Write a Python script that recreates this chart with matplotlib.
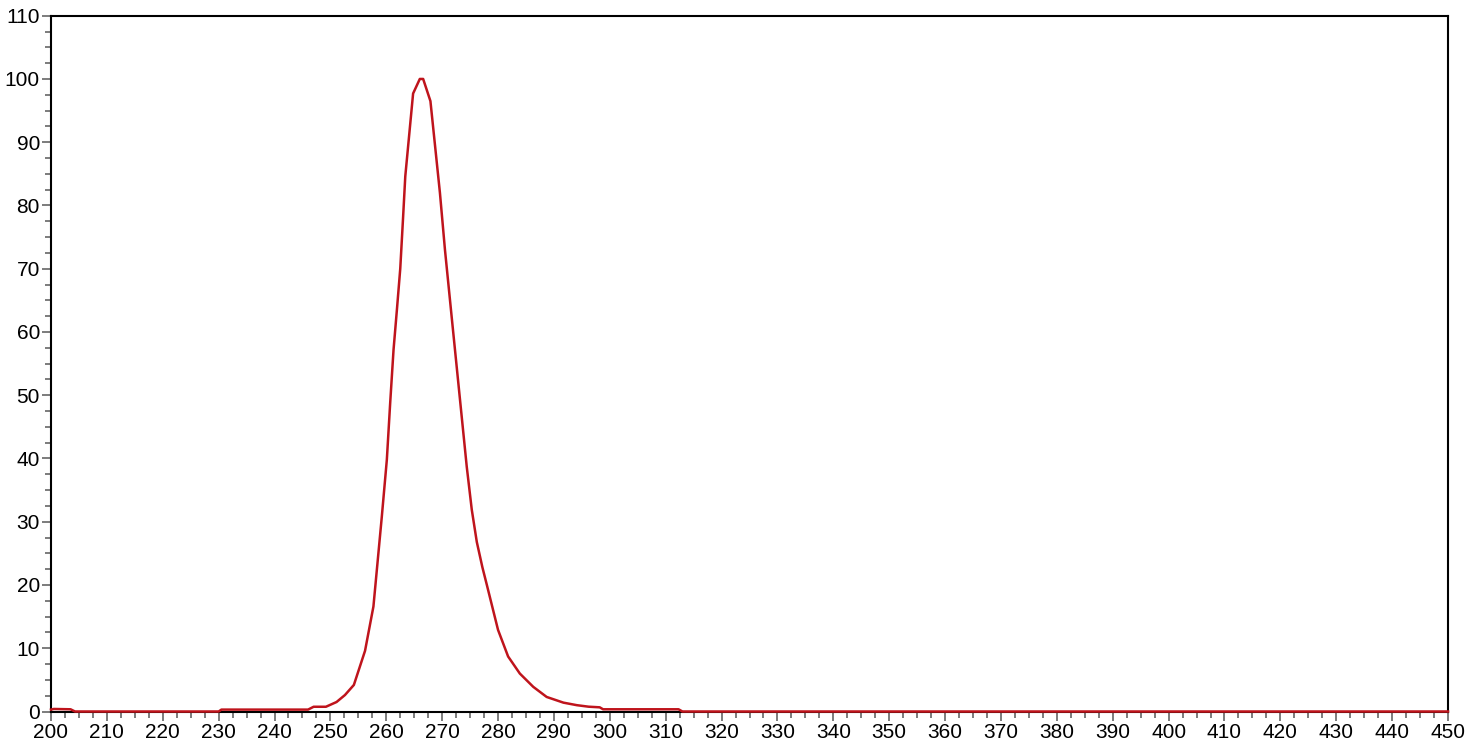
import matplotlib
matplotlib.use("Agg")
import matplotlib.pyplot as plt
from matplotlib.ticker import MultipleLocator, AutoMinorLocator

wavelength = [200, 200.5, 203.5, 204.3, 230, 230.5, 246, 247, 249.2, 251.1, 252.6,
              254.2, 256.2, 257.7, 259.2, 260.1, 260.7, 261.3, 261.9, 262.5, 263.0,
              263.4, 264.8, 266.0, 266.6, 267.9, 269.6, 270.5, 271.7, 272.6, 273.5,
              274.4, 275.3, 276.2, 277.2, 278.0, 280.0, 281.8, 283.9, 286.3, 288.7,
              291.7, 294.1, 296.2, 298.2, 298.8, 312.3, 313, 450]
intensity = [0.3, 0.4, 0.35, 0.0, 0.0, 0.3, 0.3, 0.75, 0.75, 1.5, 2.6,
             4.2, 9.6, 16.6, 30.8, 39.8, 48.8, 57.2, 63.5, 70.0, 78.0,
             84.6, 97.7, 100.0, 100.0, 96.5, 82.0, 73.0, 62.4, 54.5, 46.6,
             38.7, 31.9, 26.8, 22.8, 20.0, 12.9, 8.7, 6.0, 3.9, 2.3,
             1.4, 1.0, 0.76, 0.66, 0.35, 0.35, 0.0, 0.0]

plt.rcParams['font.family'] = ['Liberation Sans', 'DejaVu Sans']

fig = plt.figure(figsize=(14.71, 7.44), dpi=100)
ax = fig.add_axes([51/1471, 1 - 711.5/744, (1448 - 51)/1471, (711.5 - 15.7)/744])

ax.plot(wavelength, intensity, color='#bf141c', lw=1.8, zorder=3, clip_on=False)

ax.set_xlim(200, 450)
ax.set_ylim(0, 110)
ax.xaxis.set_major_locator(MultipleLocator(10))
ax.xaxis.set_minor_locator(AutoMinorLocator(4))
ax.yaxis.set_major_locator(MultipleLocator(10))
ax.yaxis.set_minor_locator(AutoMinorLocator(4))

for s in ax.spines.values():
    s.set_linewidth(1.5)
    s.set_color('black')

ax.tick_params(axis='both', which='major', direction='out', length=6.5, width=1.2,
               color='#666666', labelsize=15, pad=1.5)
ax.tick_params(axis='both', which='minor', direction='out', length=4.5, width=1.2,
               color='#666666')
ax.tick_params(axis='x', which='major', pad=1.5)

fig.savefig('out.png', dpi=100)
